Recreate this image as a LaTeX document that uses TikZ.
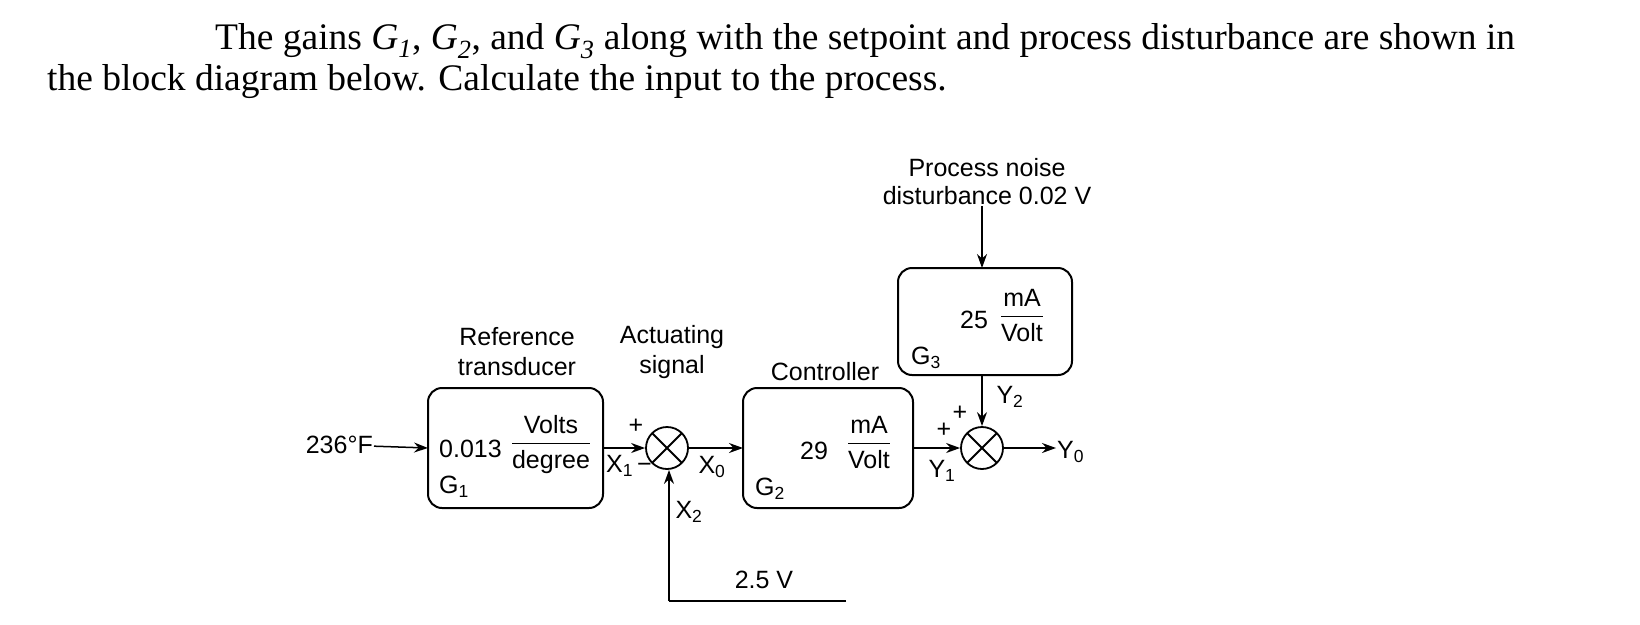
\documentclass[tikz,border=0pt]{standalone}
\usepackage{fontspec}
\setmainfont{Liberation Serif}
\newfontfamily\dsans{Liberation Sans}
\usetikzlibrary{arrows.meta}
\newcommand\myfrac[2]{\setlength{\arrayrulewidth}{1.6pt}\begin{tabular}{@{}c@{}}#1\\[1pt]\hline\rule{0pt}{24pt}#2\end{tabular}}
\begin{document}
\begin{tikzpicture}[x=1pt,y=-1pt,
  blk/.style={draw,line width=2pt,rounded corners=14pt},
  sum/.style={draw,line width=1.8pt,circle,minimum size=42pt,inner sep=0pt,
     path picture={\draw[line width=1.8pt] (path picture bounding box.north west)--(path picture bounding box.south east)
       (path picture bounding box.north east)--(path picture bounding box.south west);}},
  lab/.style={font=\dsans\fontsize{25}{29}\selectfont,inner sep=1pt},
  ar/.style={line width=1.5pt,-{Stealth[length=14pt,width=10pt]}},
  ln/.style={line width=1.5pt}]
\useasboundingbox (0,0) rectangle (1640,624);
\node[anchor=north west,font=\fontsize{37.5}{41}\selectfont,inner sep=0,align=left] (t1) at (47,23)
  {\hspace*{168pt}The gains \textit{G\textsubscript{1}}, \textit{G\textsubscript{2}}, and \textit{G\textsubscript{3}} along with the setpoint and process disturbance are shown in\\
  the block diagram below. Calculate the input to the process.};
% blocks
\draw[blk] (428,388) rectangle (603,508);
\coordinate (g1w) at (428,448); \coordinate (g1e) at (603,448);
\draw[blk] (743,388) rectangle (913,508);
\coordinate (g2w) at (743,448); \coordinate (g2e) at (913,448);
\draw[blk] (898,268) rectangle (1072,375);
\coordinate (g3n) at (982,268); \coordinate (g3s) at (982,375);
\node[sum] (s1) at (667,448) {};
\node[sum] (s2) at (982,448) {};
% texts
\node[lab,anchor=east] (in) at (374,445) {236°F};
\node[lab,anchor=west] (k1) at (438,449) {0.013};
\node[lab] (f1) at (551,445) {\myfrac{Volts}{degree}};
\node[lab] (lg1) at (454,487) {G\textsubscript{1}};
\node[lab] (rt) at (517,337) {Reference};
\node[lab] (rt2) at (517,367) {transducer};
\node[lab] (as) at (672,337) {Actuating};
\node[lab] (as2) at (672,367) {signal};
\node[lab] (ct) at (825,372) {Controller};
\node[lab] (k2) at (814,451) {29};
\node[lab] (f2) at (869,445) {\myfrac{mA}{Volt}};
\node[lab] (lg2) at (770,489) {G\textsubscript{2}};
\node[lab] (k3) at (974,320) {25};
\node[lab] (f3) at (1022,318) {\myfrac{mA}{Volt}};
\node[lab] (lg3) at (926,358) {G\textsubscript{3}};
\node[lab] (pn) at (987,168) {Process noise};
\node[lab] (pn2) at (987,196) {disturbance 0.02 V};
\node[lab] (p1) at (636,426) {+};
\node[lab] (x1) at (629,466) {X\textsubscript{1}\,−};
\node[lab] (x0) at (712,467) {X\textsubscript{0}};
\node[lab] (x2) at (689,512) {X\textsubscript{2}};
\node[lab] (v25) at (764,580) {2.5 V};
\node[lab] (p2) at (944,430) {+};
\node[lab] (p3) at (960,413) {+};
\node[lab] (y2) at (1010,397) {Y\textsubscript{2}};
\node[lab] (y1) at (942,471) {Y\textsubscript{1}};
\node[lab,anchor=west] (y0) at (1056,452) {Y\textsubscript{0}};
\coordinate (fb) at (669,601); \coordinate (fbe) at (846,601);
% connectors
\draw[ar] (in) -- (g1w);
\draw[ar] (g1e) -- (s1);
\draw[ar] (s1) -- (g2w);
\draw[ln] (fbe) -- (fb);
\draw[ar] (fb) -- (fb |- s1.south);
\draw[ar] (g2e) -- (s2);
\draw[ar] (pn2.south -| g3n) -- (g3n);
\draw[ar] (g3s) -- (s2);
\draw[ar] (s2) -- (s2 -| y0.west);
\end{tikzpicture}
\end{document}
